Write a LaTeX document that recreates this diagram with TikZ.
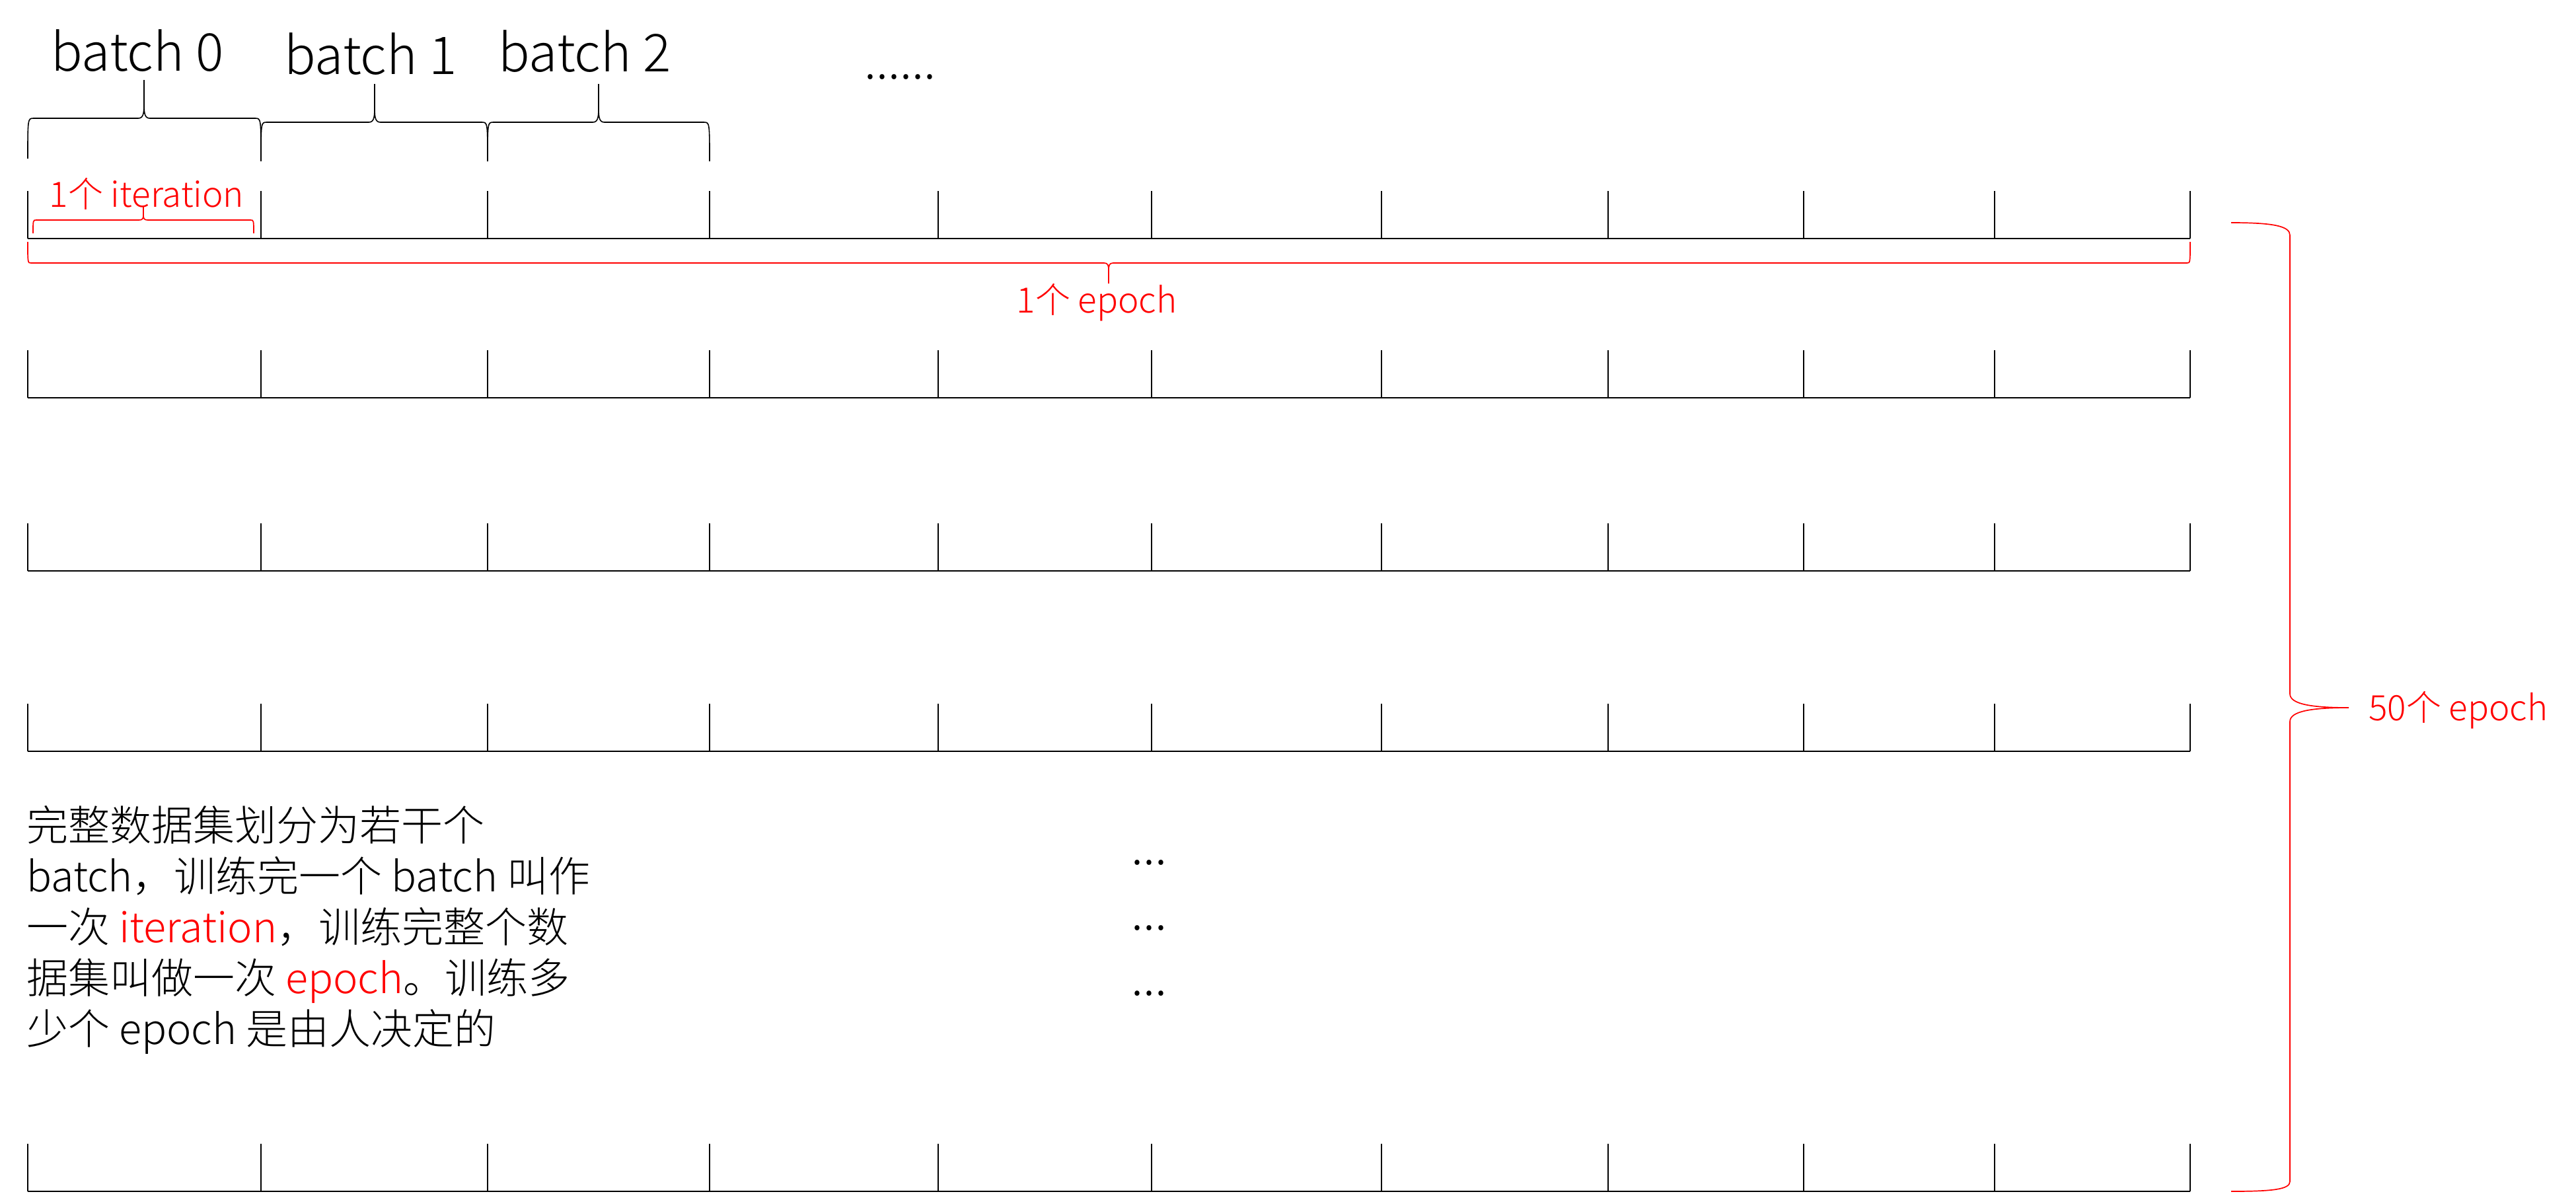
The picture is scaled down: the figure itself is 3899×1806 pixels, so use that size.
\documentclass[tikz,border=0pt]{standalone}
\usepackage{fontspec}
\setmainfont{Noto Sans CJK SC Light}
% horizontal brace: #1 style, #2 x1, #3 x2, #4 xm, #5 y of ends, #6 y of line, #7 y of tip, #8 corner size, #9 tip half width
\newcommand{\hbrace}[9]{%
  \pgfmathsetmacro{\brYa}{#6+0.35*(#7-#6)}%
  \pgfmathsetmacro{\brYb}{#6+0.10*(#7-#6)}%
  \draw[#1] (#2,#5) .. controls (#2,#6) .. (#2+#8,#6) -- (#4-#9,#6)
     .. controls (#4-0.2*#9,#6) and (#4,\brYb) .. (#4,\brYa) -- (#4,#7)
     (#4,#7) -- (#4,\brYa) .. controls (#4,\brYb) and (#4+0.2*#9,#6) .. (#4+#9,#6)
     -- (#3-#8,#6) .. controls (#3,#6) .. (#3,#5);}
\begin{document}
\begin{tikzpicture}[x=0.5pt,y=-0.5pt,
  row/.style={line width=0.85pt,black},
  blkbr/.style={line width=0.8pt,black},
  redbr/.style={line width=0.85pt,red},
  batchlbl/.style={font=\fontsize{39.5}{47}\selectfont,inner sep=0pt,anchor=base},
  redlbl/.style={font=\fontsize{26.5}{32}\selectfont,text=red,inner sep=0pt,anchor=base},
  para/.style={font=\fontsize{31.5}{38}\selectfont,inner sep=0pt,anchor=base west},
  dotlbl/.style={font=\fontsize{36}{40}\selectfont,inner sep=0pt,anchor=base west}]
\useasboundingbox (0,0) rectangle (3899,1806);
\fill[white] (0,0) rectangle (3899,1806);

% rows of batches
\foreach \yy in {361,602,864,1137,1803}{
  \draw[row] (42,\yy) -- (3315,\yy);
  \foreach \xx in {42,395,738,1074,1420,1743,2091,2434,2730,3019,3315}
    \draw[row] (\xx,\yy) -- (\xx,\yy-72);
}

% batch braces
\hbrace{blkbr}{42}{395}{218}{240}{179}{121}{9}{9}
\hbrace{blkbr}{395}{738}{567}{244}{185}{127}{9}{9}
\hbrace{blkbr}{738}{1074}{906}{244}{185}{127}{9}{9}

% iteration brace and epoch brace
\hbrace{redbr}{50}{384}{217}{353}{333}{313}{5}{7}
\hbrace{redbr}{42}{3315}{1678}{366}{398}{429}{5}{7}

% 50 epoch brace
\draw[redbr] (3377,337) .. controls (3440,337) and (3466,342) .. (3466,356)
  -- (3466,1050) .. controls (3466,1066) and (3500,1071) .. (3555,1071)
  (3555,1071) .. controls (3500,1071) and (3466,1076) .. (3466,1092)
  -- (3466,1788) .. controls (3466,1800) and (3440,1803) .. (3377,1803);

% labels
\node[batchlbl] (b0) at (208,107) {batch 0};
\node[batchlbl] (b1) at (561,112) {batch 1};
\node[batchlbl] (b2) at (885,108) {batch 2};
\node[dotlbl] (topdots) at (1308,119) {......};

\node[redlbl] (iterlbl) at (222,313) {1个 iteration};
\node[redlbl] (epochlbl) at (1660,473) {1个 epoch};
\node[redlbl] (fiftylbl) at (3721,1090) {50个 epoch};

\node[para] (p1) at (40,1272) {完整数据集划分为若干个};
\node[para] (p2) at (40,1349) {batch，训练完一个 batch 叫作};
\node[para] (p3) at (40,1426) {一次 \textcolor{red}{iteration}，训练完整个数};
\node[para] (p4) at (40,1503) {据集叫做一次 \textcolor{red}{epoch}。训练多};
\node[para] (p5) at (40,1580) {少个 epoch 是由人决定的};

\node[dotlbl] (d1) at (1712,1308) {...};
\node[dotlbl] (d2) at (1712,1407) {...};
\node[dotlbl] (d3) at (1712,1506) {...};
\end{tikzpicture}
\end{document}
